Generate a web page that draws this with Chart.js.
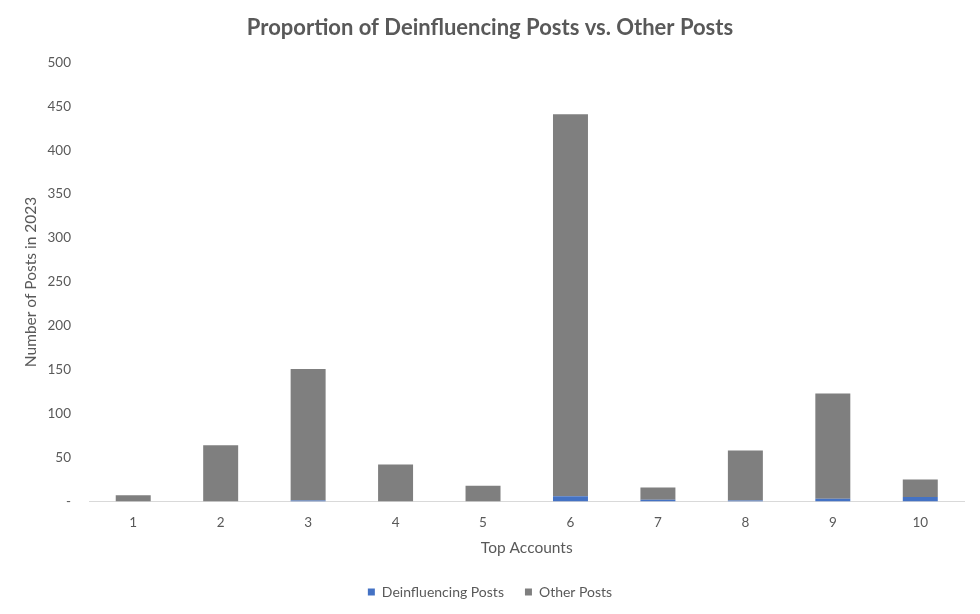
<!DOCTYPE html>
<html>
<head>
<meta charset="utf-8">
<script src="https://cdn.jsdelivr.net/npm/chart.js@4"></script>
<style>
  html, body { margin: 0; padding: 0; background: #fff; }
  #wrap { width: 980px; height: 614px; }
</style>
</head>
<body>
<div id="wrap"><canvas id="grafico"></canvas></div>
<script>
// Datos
const cuentas = ["1", "2", "3", "4", "5", "6", "7", "8", "9", "10"];
const postsDeinfluencing = [0, 0, 1, 0, 0, 6, 2, 1, 3, 5];
const postsOtros = [7, 64, 150, 42, 18, 435, 14, 57, 120, 20];
const ticksY = [0, 50, 100, 150, 200, 250, 300, 350, 400, 450, 500];

const gris = "#595959";
const fuente = "Lato, 'Open Sans', sans-serif";

new Chart(document.getElementById("grafico").getContext("2d"), {
  type: "bar",
  data: {
    labels: cuentas,
    datasets: [
      {
        label: "Deinfluencing Posts",
        data: postsDeinfluencing,
        backgroundColor: "#4472C4",
        barPercentage: 0.4,
        categoryPercentage: 1
      },
      {
        label: "Other Posts",
        data: postsOtros,
        backgroundColor: "#7F7F7F",
        barPercentage: 0.4,
        categoryPercentage: 1
      }
    ]
  },
  options: {
    responsive: true,
    maintainAspectRatio: false,
    animation: false,
    layout: { padding: { left: 16, right: 16, top: 0, bottom: 5 } },
    scales: {
      x: {
        stacked: true,
        afterFit: (eje) => { eje.height = 62.5; },
        grid: { display: false, drawTicks: false },
        border: { display: true, color: "#D9D9D9", width: 1 },
        ticks: { color: gris, font: { family: fuente, size: 13.5 }, padding: 13.4 },
        title: {
          display: true,
          text: "Top Accounts",
          color: gris,
          font: { family: fuente, size: 15.5 },
          padding: { top: 0, bottom: 6.7 }
        }
      },
      y: {
        stacked: true,
        min: 0,
        max: 500,
        afterFit: (eje) => { eje.width = 73.5; },
        afterBuildTicks: (eje) => { eje.ticks = ticksY.map(v => ({ value: v })); },
        grid: { display: false, drawTicks: false },
        border: { display: false },
        ticks: {
          color: gris,
          font: { family: fuente, size: 13.5 },
          padding: 18.5,
          callback: (v) => (v === 0 ? "-" : v)
        },
        title: {
          display: true,
          text: "Number of Posts in 2023",
          color: gris,
          font: { family: fuente, size: 15.5 },
          padding: { top: 5.7, bottom: 0 }
        }
      }
    },
    plugins: {
      title: {
        display: true,
        text: "Proportion of Deinfluencing Posts vs. Other Posts",
        color: gris,
        font: { family: fuente, size: 22, weight: "bold" },
        padding: { top: 14.5, bottom: 21.5 }
      },
      legend: {
        position: "bottom",
        labels: {
          color: gris,
          font: { family: fuente, size: 14 },
          boxWidth: 7,
          boxHeight: 7,
          padding: 21
        }
      },
      tooltip: { enabled: false }
    }
  }
});
</script>
</body>
</html>
